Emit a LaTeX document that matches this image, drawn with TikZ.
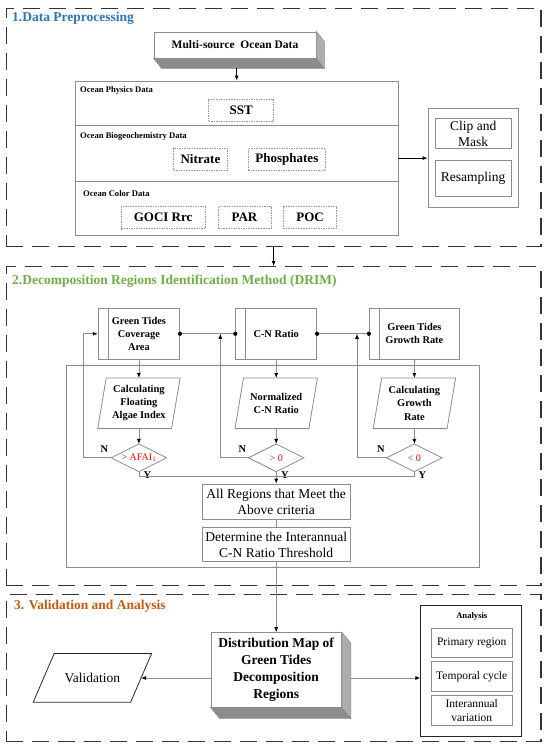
\documentclass[tikz,border=0pt]{standalone}
\usepackage{fontspec}
\setmainfont{Liberation Serif}
\usetikzlibrary{arrows.meta,calc}
\definecolor{tblue}{RGB}{46,117,182}
\definecolor{tgreen}{RGB}{112,173,71}
\definecolor{torange}{RGB}{197,90,17}
\definecolor{lgray}{RGB}{140,140,140}
\newcommand{\drawpara}[3]{\draw[#3] ($(#1.north west)+(#2,0)$) -- ($(#1.north east)+(#2,0)$) -- ($(#1.south east)+(-#2,0)$) -- ($(#1.south west)+(-#2,0)$) -- cycle;}
\newcommand{\drawdiam}[1]{\draw[gline] (#1.north) -- (#1.east) -- (#1.south) -- (#1.west) -- cycle;}
\newcommand{\extrude}[3]{%
  \fill[black!45,draw=lgray,line width=0.6pt] (#1.south west) -- (#1.south east) -- ($(#1.south east)+(#2,#3)$) -- ($(#1.south west)+(#2,#3)$) -- cycle;
  \fill[black!32,draw=lgray,line width=0.6pt] (#1.north east) -- ($(#1.north east)+(#2,#3)$) -- ($(#1.south east)+(#2,#3)$) -- (#1.south east) -- cycle;}
\begin{document}
\begin{tikzpicture}[x=1pt,y=-1pt,
  sec/.style={draw=black!80,line width=1.2pt,dash pattern=on 17pt off 9pt,inner sep=0pt},
  box/.style={draw=lgray,line width=0.8pt,inner sep=0pt,align=center,fill=white},
  dbox/.style={draw=black!40,line width=0.6pt,dash pattern=on 1.5pt off 1pt,inner sep=0pt,align=center},
  ghost/.style={inner sep=0pt,align=center},
  gline/.style={draw=lgray,line width=0.8pt},
  arr/.style={draw=black,line width=0.8pt,-{Latex[length=5pt,width=4pt]}},
  garr/.style={draw=lgray,line width=0.8pt,-{Latex[length=5pt,width=4pt,color=black]}},
  ftitle/.style={font=\fontsize{13.5}{16}\selectfont\bfseries},
  fsmall/.style={font=\fontsize{8.6}{10}\selectfont\bfseries},
  fdata/.style={font=\fontsize{13}{15}\selectfont\bfseries},
  freg/.style={font=\fontsize{13.5}{15.8}\selectfont},
  fbold/.style={font=\fontsize{10.4}{13.2}\selectfont\bfseries},
  fbig/.style={font=\fontsize{13.5}{17}\selectfont\bfseries},
  fana/.style={font=\fontsize{11.5}{14}\selectfont},
  fred/.style={font=\fontsize{10}{11}\selectfont,text=red}
]
\useasboundingbox (0,0) rectangle (550,745);

% ---------- sections ----------
\node[sec,minimum width=534.7pt,minimum height=238.2pt] (s1) at (273.65,127.5) {};
\node[sec,minimum width=534.7pt,minimum height=318.7pt] (s2) at (273.65,425.95) {};
\node[sec,minimum width=534.7pt,minimum height=146.8pt] (s3) at (273.65,668.1) {};
\node[ftitle,text=tblue,anchor=west,inner sep=0pt] (t1) at (12,18) {1.Data Preprocessing};
\node[ftitle,text=tgreen,anchor=west,inner sep=0pt] (t2) at (12,281.6) {2.Decomposition Regions Identification Method (DRIM)};
\node[ftitle,text=torange,anchor=west,inner sep=0pt] (t3) at (14,606.3) {3. Validation and Analysis};

% ---------- section 1 ----------
\node[box,minimum width=162pt,minimum height=26pt,font=\fontsize{11.5}{13}\selectfont\bfseries] (ms) at (235,45) {Multi-source\ \ Ocean Data};
\extrude{ms}{8}{10}
\node[box,minimum width=322.6pt,minimum height=154.2pt] (big) at (236.7,158.1) {};
\draw[arr] ($(ms.south)+(1.7,10)$) -- (big.north);
\draw[gline] (75.4,125.8) -- (398,125.8);
\draw[gline] (75.4,180.9) -- (398,180.9);
\node[fsmall,anchor=west,inner sep=0pt] (l1) at (80,90.5) {Ocean Physics Data};
\node[fsmall,anchor=west,inner sep=0pt] (l2) at (80,136.3) {Ocean Biogeochemistry Data};
\node[fsmall,anchor=west,inner sep=0pt] (l3) at (83,194) {Ocean Color Data};
\node[dbox,fdata,minimum width=64.9pt,minimum height=21.7pt] (sst) at (241.15,110.15) {SST};
\node[dbox,fdata,minimum width=53.7pt,minimum height=22.4pt] (nit) at (200.45,159.1) {Nitrate};
\node[dbox,fdata,minimum width=77.2pt,minimum height=22.4pt] (pho) at (286.9,159.1) {Phosphates};
\node[dbox,fdata,minimum width=84.2pt,minimum height=22.1pt] (goci) at (163.1,217.55) {GOCI Rrc};
\node[dbox,fdata,minimum width=52.6pt,minimum height=22.1pt] (par) at (244.5,217.55) {PAR};
\node[dbox,fdata,minimum width=53.3pt,minimum height=22.1pt] (poc) at (310.05,217.55) {POC};
\node[box,minimum width=90.4pt,minimum height=98.8pt] (rb) at (473.2,158.1) {};
\node[box,freg,minimum width=76.4pt,minimum height=30pt] (clip) at (473.2,133.6) {Clip and\\Mask};
\node[box,freg,minimum width=76.4pt,minimum height=36.4pt] (rs) at (473.2,178.4) {Resampling};
\draw[arr] (big.east) -- (rb.west);
\draw[arr] (s1.south) -- (s2.north);

% ---------- section 2 ----------
\node[draw=lgray,line width=0.8pt,inner sep=0pt,minimum width=412.5pt,minimum height=202.2pt] (ib) at (272.85,466.6) {};
\node[box,fbold,minimum width=81.4pt,minimum height=51.5pt] (gt) at (138.9,333.75) {Green Tides\\Coverage\\Area};
\node[box,fbold,minimum width=81pt,minimum height=51.5pt] (cn) at (276.2,333.75) {C-N Ratio};
\node[box,fbold,minimum width=90.2pt,minimum height=51.5pt] (gr) at (414.4,333.75) {Green Tides\\Growth Rate};
\draw[gline] ($(gt.north west)+(10.5,0)$) -- ($(gt.south west)+(10.5,0)$);
\draw[gline] ($(cn.north west)+(9.8,0)$) -- ($(cn.south west)+(9.8,0)$);
\draw[gline] ($(gr.north west)+(10.2,0)$) -- ($(gr.south west)+(10.2,0)$);
\draw[gline] (gt.east) -- (cn.west);
\draw[gline] (cn.east) -- (gr.west);
\foreach \p in {gt.east,cn.west,cn.east,gr.west} \fill (\p) circle (2.1pt);

\node[ghost,fbold,minimum width=73.5pt,minimum height=50.2pt] (p1) at (138.9,403.3) {Calculating\\Floating\\Algae Index};
\node[ghost,fbold,minimum width=73.5pt,minimum height=50.2pt] (p2) at (276.2,403.3) {Normalized\\C-N Ratio};
\node[ghost,fbold,minimum width=73.5pt,minimum height=50.2pt] (p3) at (414.4,403.3) {Calculating\\Growth\\Rate};
\drawpara{p1}{4.25}{gline}
\drawpara{p2}{4.25}{gline}
\drawpara{p3}{4.25}{gline}

\node[ghost,fred,minimum width=55pt,minimum height=27.3pt] (d1) at (138.9,457.8) {> AFAI\textsubscript{1}};
\node[ghost,fred,minimum width=55pt,minimum height=27.3pt] (d2) at (276.2,457.8) {> 0};
\node[ghost,fred,minimum width=55pt,minimum height=27.3pt] (d3) at (414.4,457.8) {< 0};
\drawdiam{d1}
\drawdiam{d2}
\drawdiam{d3}

\draw[garr] (gt.south) -- (p1.north);
\draw[garr] (cn.south) -- (p2.north);
\draw[garr] (gr.south) -- (p3.north);
\draw[garr] (p1.south) -- (d1.north);
\draw[garr] (p2.south) -- (d2.north);
\draw[garr] (p3.south) -- (d3.north);

\coordinate (f1) at (83.1,333.75);
\coordinate (f2) at (220.3,333.75);
\coordinate (f3) at (357,333.75);
\draw[gline] (d1.west) -| (f1);
\draw[garr] (f1) -- (gt.west);
\draw[garr] (d2.west) -| (f2);
\draw[garr] (d3.west) -| (f3);

\node[fbold,inner sep=0pt] (n1) at (104.5,449.4) {N};
\node[fbold,inner sep=0pt] (n2) at (242.5,449.4) {N};
\node[fbold,inner sep=0pt] (n3) at (381,449.4) {N};
\node[fbold,inner sep=0pt] (y1) at (147.3,475) {Y};
\node[fbold,inner sep=0pt] (y2) at (284.8,475) {Y};
\node[fbold,inner sep=0pt] (y3) at (422.5,475) {Y};

\node[box,freg,minimum width=148.3pt,minimum height=35.3pt] (ar) at (276.2,501.65) {All Regions that Meet the\\Above criteria};
\node[box,freg,minimum width=148.3pt,minimum height=34.4pt] (dt) at (276.2,544.5) {Determine the Interannual\\C-N Ratio Threshold};

\coordinate (m1) at (138.9,476.5);
\coordinate (m2) at (276.2,476.5);
\coordinate (m3) at (414.4,476.5);
\draw[gline] (d1.south) -- (m1) -- (m3) -- (d3.south);
\draw[gline] (d2.south) -- (m2);
\draw[garr] (m2) -- (ar.north);
\draw[gline] (ar.south) -- (dt.north);

% ---------- section 3 ----------
\node[box,fbig,minimum width=130.4pt,minimum height=74.4pt] (dm) at (276.2,669.8) {Distribution Map of\\Green Tides\\Decomposition\\Regions};
\extrude{dm}{9}{11}
\draw[garr] (dt.south) -- (dm.north);

\node[ghost,freg,minimum width=97pt,minimum height=48.3pt] (val) at (92.4,677.85) {Validation};
\drawpara{val}{10.5}{draw=black!85,line width=0.8pt}

\node[draw=black!85,line width=1pt,inner sep=0pt,minimum width=100.7pt,minimum height=130.7pt] (an) at (471.25,670.65) {};
\node[font=\fontsize{8.6}{10}\selectfont\bfseries,inner sep=0pt] (ant) at (471.8,616.1) {Analysis};
\node[box,fana,minimum width=80.7pt,minimum height=29.2pt] (pr) at (471.75,642.6) {Primary region};
\node[box,fana,minimum width=80.7pt,minimum height=29.8pt] (tc) at (471.75,676.6) {Temporal cycle};
\node[box,fana,minimum width=80.7pt,minimum height=29.9pt] (iv) at (471.75,710.65) {Interannual\\variation};

\coordinate (dml) at ($(dm.west)+(0,8.2)$);
\coordinate (dmr) at ($(dm.east)+(9,8.2)$);
\draw[garr] (dml) -- (dml -| val.east);
\draw[garr] (dmr) -- (dmr -| an.west);
\end{tikzpicture}
\end{document}
